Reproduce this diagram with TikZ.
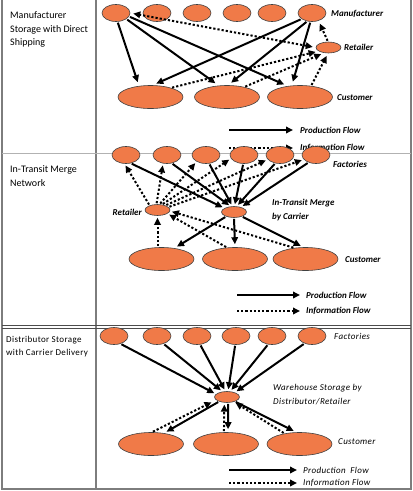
\documentclass[tikz,border=0pt]{standalone}
\usepackage{fontspec}
\setmainfont{Carlito}
\newfontfamily\spacedfont[LetterSpace=4]{Carlito}
\usetikzlibrary{shapes.geometric,arrows.meta}
\definecolor{nodefill}{RGB}{240,122,72}
\definecolor{framegray}{RGB}{125,125,125}

\begin{document}
\begin{tikzpicture}[x=1pt,y=-1pt]
                        \tikzstyle{every node}=[inner sep=0]
                        \tikzstyle{mid}=[ellipse,draw=black!75,fill=nodefill,line width=0.6,minimum width=28,minimum height=17]
                        \tikzstyle{big}=[mid,minimum width=65,minimum height=23]
                        \tikzstyle{small}=[mid,minimum width=25,minimum height=11]
                        \tikzstyle{lbl}=[anchor=west,align=left,font=\fontsize{9}{14}\selectfont\bfseries\itshape]
                        \tikzstyle{lbly}=[anchor=west,align=left,font=\spacedfont\fontsize{9}{14}\selectfont\itshape]
                        \tikzstyle{side}=[anchor=west,align=left,font=\fontsize{10}{13.5}\selectfont]
                        \tikzstyle{sidey}=[anchor=west,align=left,font=\spacedfont\fontsize{9}{13}\selectfont]
                        \tikzstyle{prod}=[->,>={Triangle[length=7,width=6.5]},line width=2,shorten >=3,shorten <=1]
                        \tikzstyle{info}=[prod,dash pattern=on 2.2 off 2]
                        \tikzstyle{frame}=[draw=framegray,line width=1.2]
                        \useasboundingbox (0,0) rectangle (413,491);
                        {
                            \draw[frame] (2,0) -- (2,489) -- (411,489) -- (411,0);
                            \draw[frame] (96,0) -- (96,489);
                            \draw[draw=black!30,line width=0.8] (2,153) -- (411,153);
                            \draw[draw=black!70,line width=0.8] (2,325.5) -- (411,325.5) (2,328.5) -- (411,328.5);

                            \node[side] (n1) at (10,29.5) {Manufacturer\\Storage with Direct\\Shipping};
                            \node[side] (n2) at (10,176) {In-Transit Merge\\Network};
                            \node[sidey] (n3) at (6,347) {Distributor Storage\\with Carrier Delivery};

                            \node[mid] (m1) at (116,13) {};
                            \node[mid] (m2) at (157,13) {};
                            \node[mid] (m3) at (197,13) {};
                            \node[mid] (m4) at (237,13) {};
                            \node[mid] (m5) at (272,13) {};
                            \node[mid] (m6) at (312,13) {};
                            \node[small] (r1) at (328.5,47.5) {};
                            \node[big] (c1) at (150.5,97) {};
                            \node[big] (c2) at (227,97) {};
                            \node[big] (c3) at (300,97) {};
                            \node[lbl] (l1) at (331,14) {Manufacturer};
                            \node[lbl] (l2) at (344,47) {Retailer};
                            \node[lbl] (l3) at (337,98) {Customer};
                            \path[prod]
                                (m1.-80) edge[shorten >=4] (c1.136)
                                (m1.-30) edge[shorten >=4] (c2.126)
                                (m1.-15) edge[shorten >=4] (c3.138)
                                (m6.-150) edge[shorten >=4] (c1.80)
                                (m6.-120) edge[shorten >=4] (c2.85)
                                (m6.-100) edge[shorten >=4] (c3.126);
                            \path[info]
                                (r1.180) edge[<->,shorten <=3] (m1.east)
                                (c1.24) edge (r1.-160)
                                (c2.30) edge (r1.-130)
                                (c3.45) edge (r1.-95)
                                (r1.95) edge (m6.-50);
                            \coordinate (pa1) at (228,130);
                            \coordinate (ia1) at (228,148);
                            \node[lbl] (pt1) at (300,130) {Production Flow};
                            \node[lbl] (it1) at (300,148) {Information Flow};
                            \path[prod] (pa1) edge[shorten >=7] (pt1.west);
                            \path[info] (ia1) edge[shorten >=7] (it1.west);

                            \node[mid] (fx1) at (126,155) {};
                            \node[mid] (fx2) at (167,155) {};
                            \node[mid] (fx3) at (206,155) {};
                            \node[mid] (fx4) at (244,155) {};
                            \node[mid] (fx5) at (280,155) {};
                            \node[mid] (fx6) at (316,155) {};
                            \node[small] (mx) at (234,212) {};
                            \node[small] (rx) at (157.5,210) {};
                            \node[big] (cx1) at (161.5,259) {};
                            \node[big] (cx2) at (235,259) {};
                            \node[big] (cx3) at (305.5,259) {};
                            \node[lbl] (lx1) at (333,164) {Factories};
                            \node[lbl] (lx2) at (272,210) {In-Transit Merge\\by Carrier};
                            \node[lbl,anchor=east] (lx3) at (142,212) {Retailer};
                            \node[lbl] (lx4) at (345,260) {Customer};
                            \path[prod]
                                (fx1.-60) edge[shorten >=2] (mx.158)
                                (fx2.-60) edge[shorten >=2] (mx.120)
                                (fx3.-70) edge[shorten >=2] (mx.105)
                                (fx4.-95) edge[shorten >=2] (mx.85)
                                (fx5.-120) edge[shorten >=2] (mx.65)
                                (fx6.-135) edge[shorten >=2] (mx.35)
                                (mx.-150) edge (cx1.40)
                                (mx.south) edge (cx2.north)
                                (mx.-30) edge (cx3.100);
                            \path[info]
                                (rx.150) edge[shorten >=2] (fx1.-100)
                                (rx.100) edge[shorten >=2] (fx2.-115)
                                (rx.70) edge[shorten >=2] (fx3.-145)
                                (rx.50) edge[shorten >=2] (fx4.-165)
                                (rx.30) edge[shorten >=2] (fx5.-160)
                                (rx.15) edge[shorten >=2] (fx6.-160)
                                (rx |- cx1.north) edge[shorten >=2] (rx.south)
                                (cx2.125) edge[shorten >=2] (rx.-20)
                                (cx3.135) edge[shorten >=2] (rx.-5);
                            \coordinate (pax) at (236,295);
                            \coordinate (iax) at (236,311);
                            \node[lbl] (ptx) at (306,295) {Production Flow};
                            \node[lbl] (itx) at (306,311) {Information Flow};
                            \path[prod] (pax) edge[shorten >=6] (ptx.west);
                            \path[info] (iax) edge[shorten >=6] (itx.west);

                            \node[mid] (fy1) at (114,336) {};
                            \node[mid] (fy2) at (157,336) {};
                            \node[mid] (fy3) at (197,336) {};
                            \node[mid] (fy4) at (236,336) {};
                            \node[mid] (fy5) at (272,336) {};
                            \node[mid] (fy6) at (312,336) {};
                            \node[small] (wy) at (227,397) {};
                            \node[big] (cy1) at (151,444) {};
                            \node[big] (cy2) at (226,444) {};
                            \node[big] (cy3) at (299.5,444) {};
                            \node[lbly] (ly1) at (334,336) {Factories};
                            \node[lbly] (ly2) at (273,395) {Warehouse Storage by\\Distributor/Retailer};
                            \node[lbly] (ly3) at (338,442) {Customer};
                            \path[prod]
                                (fy1.-50) edge[shorten >=2] (wy.165)
                                (fy2.-50) edge[shorten >=2] (wy.130)
                                (fy3.-70) edge[shorten >=2] (wy.105)
                                (fy4.-95) edge[shorten >=2] (wy.80)
                                (fy5.-115) edge[shorten >=2] (wy.60)
                                (fy6.-135) edge[shorten >=2] (wy.30)
                                (wy.-150) edge (cy1.40)
                                (wy.-80) edge (cy2.80)
                                (wy.-30) edge (cy3.105);
                            \path[info]
                                (cy1.85) edge[shorten >=5] (wy.-165)
                                (cy2.100) edge[shorten >=2] (wy.-115)
                                (cy3.145) edge[shorten >=2] (wy.-35);
                            \coordinate (pay) at (228,470);
                            \coordinate (iay) at (228,483);
                            \node[lbly] (pty) at (303,470) {Production\ \ Flow};
                            \node[lbly] (ity) at (303,483) {Information Flow};
                            \path[prod] (pay) edge[shorten >=6] (pty.west);
                            \path[info] (iay) edge[shorten >=6] (ity.west);
                        }
                    \end{tikzpicture}
\end{document}
